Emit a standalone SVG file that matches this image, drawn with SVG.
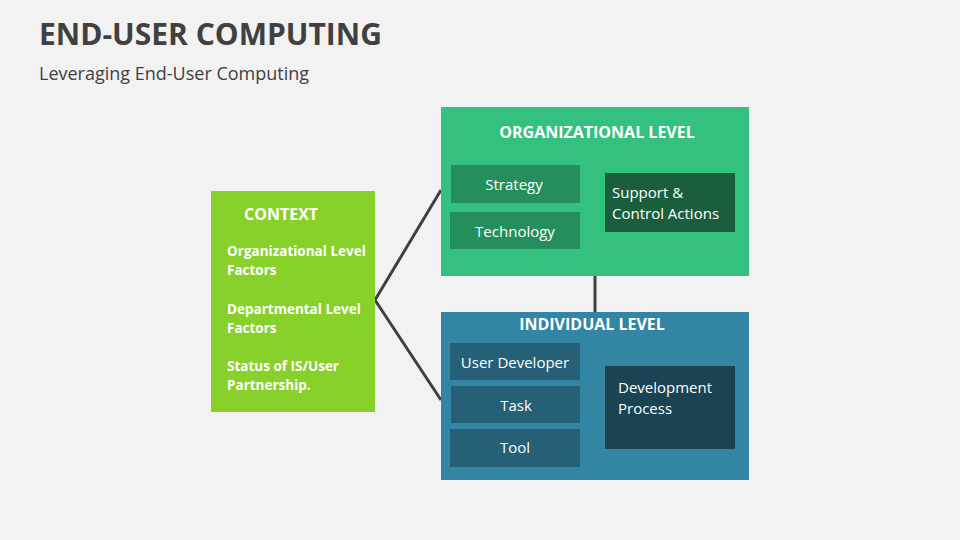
<svg xmlns="http://www.w3.org/2000/svg" width="960" height="540" viewBox="0 0 960 540">
<style>
text{font-family:"Open Sans","Noto Sans",sans-serif;fill:#fff}
.b{font-weight:bold}
.c{stroke:#404040;fill:none}
.s{fill:#248f5c}
.t{fill:#256077}
</style>
<defs><marker id="a" markerWidth="8" markerHeight="8" refX="7" refY="4" orient="auto" markerUnits="userSpaceOnUse"><path d="M0,0L8,4L0,8z" fill="#404040"/></marker></defs>
<rect width="960" height="540" fill="#f2f2f2"/>
<text x="39" y="45" class="b" font-size="30" style="fill:#404040">END-USER COMPUTING</text>
<text x="39" y="80" font-size="18" style="fill:#404040">Leveraging  End-User Computing</text>
<g id="connectors">
<path class="c" stroke-width="3" d="M441,190L375,300L441,400M595,276V312"/>
<path class="c" stroke-width="1.5" d="M580,180H594V243H580M594,207H604" marker-end="url(#a)"/>
<path class="c" stroke-width="1.5" d="M580,360H594V455H580M580,405H604" marker-end="url(#a)"/>
</g>
<g id="context"><rect x="211" y="191" width="164" height="221" fill="#88d12a"/>
<text x="244" y="220" class="b" font-size="16">CONTEXT</text>
<g font-size="13.5" class="b"><text x="227" y="256" class="b">Organizational Level</text><text x="227" y="275" class="b">Factors</text>
<text x="227" y="314" class="b">Departmental Level</text><text x="227" y="333" class="b">Factors</text>
<text x="227" y="371" class="b">Status of IS/User</text><text x="227" y="390" class="b">Partnership.</text></g></g>
<g id="org"><rect x="441" y="107" width="308" height="169" fill="#34c17f"/>
<text x="597" y="138" class="b" font-size="16" text-anchor="middle">ORGANIZATIONAL LEVEL</text></g>
<g id="strategy"><rect class="s" x="451" y="165" width="129" height="38"/><text x="514" y="190" font-size="15" text-anchor="middle">Strategy</text></g>
<g id="technology"><rect class="s" x="450" y="212" width="130" height="37"/><text x="515" y="237" font-size="15" text-anchor="middle">Technology</text></g>
<g id="support"><rect x="605" y="173" width="130" height="59" fill="#1b5e3d"/><text x="612" y="198" font-size="15">Support &amp;</text><text x="612" y="219" font-size="15">Control Actions</text></g>
<g id="ind"><rect x="441" y="312" width="308" height="168" fill="#3286a3"/>
<text x="592" y="330" class="b" font-size="16" text-anchor="middle">INDIVIDUAL LEVEL</text></g>
<g id="userdev"><rect class="t" x="450" y="343" width="130" height="37"/><text x="515" y="368" font-size="15" text-anchor="middle">User Developer</text></g>
<g id="task"><rect class="t" x="451" y="386" width="129" height="37"/><text x="516" y="411" font-size="15" text-anchor="middle">Task</text></g>
<g id="tool"><rect class="t" x="450" y="429" width="130" height="38"/><text x="515" y="453" font-size="15" text-anchor="middle">Tool</text></g>
<g id="devproc"><rect x="605" y="366" width="130" height="83" fill="#1a4354"/><text x="618" y="393" font-size="15">Development</text><text x="618" y="414" font-size="15">Process</text></g>
</svg>
